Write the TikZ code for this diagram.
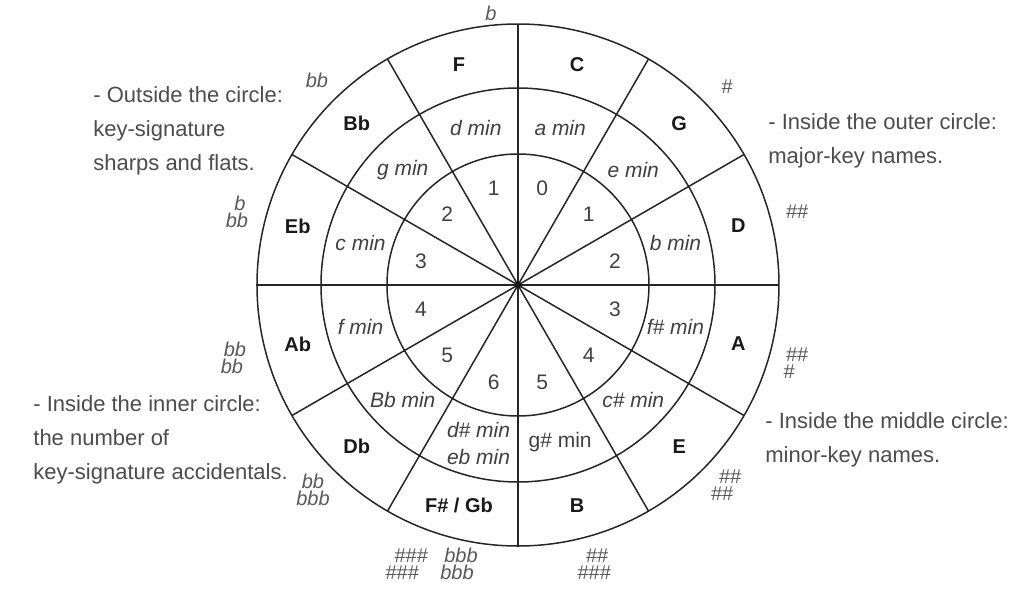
\documentclass[tikz,border=0pt]{standalone}
\usepackage{fontspec}
\setmainfont{Liberation Sans}
\begin{document}
\begin{tikzpicture}[x=0.5pt,y=0.5pt,
    ring/.style={line width=0.75pt, draw=black!85},
    major/.style={font=\fontsize{10}{12}\selectfont\bfseries, text=black!90},
    minor/.style={font=\fontsize{10.5}{13.5}\selectfont\itshape, text=black!75, align=center},
    count/.style={font=\fontsize{10.5}{12}\selectfont, text=black!75},
    accid/.style={font=\fontsize{10}{8.5}\selectfont\itshape, text=black!65, align=center},
    note/.style={font=\fontsize{11}{17}\selectfont, text=black!70, align=left, anchor=west, inner sep=0pt}]

    \useasboundingbox (-518,-306) rectangle (506,285);

    % Outer, middle and inner circle
    \draw[ring] (0,0) circle (261);
    \draw[ring] (0,0) circle (197);
    \draw[ring] (0,0) circle (131);

    % Twelve spokes and the centre point
    \foreach \a in {0,30,...,330}
        \draw[ring] (0,0) -- (\a:261);
    \fill[black!90] (0,0) circle (3.5);

    % Major keys, between outer and middle circle
    \foreach \a/\k [count=\i] in {75/C,45/G,15/D,-15/A,-45/E,-75/B,-105/{F\# / Gb},-135/Db,-165/Ab,165/Eb,135/Bb,105/F}
        \node[major] (maj\i) at (\a:228) {\k};

    % Minor keys, between middle and inner circle
    \foreach \a/\k [count=\i] in {75/a min,45/e min,15/b min,-15/f\# min,-45/c\# min,-75/{\upshape g\# min},-104/{d\# min\\eb min},-135/Bb min,-165/f min,165/c min,135/g min,105/d min}
        \node[minor] (min\i) at (\a:163) {\k};

    % Number of accidentals, inside the inner circle
    \foreach \a/\n [count=\i] in {76/0,45/1,14/2,-14/3,-45/4,-76/5,-104/6,-135/5,-166/4,166/3,135/2,104/1}
        \node[count] (num\i) at (\a:100) {\n};

    % Sharps and flats outside the circle (lower rows sit a little to the left)
    \node[accid] (accF)  at (-27,272)   {b};
    \node[accid] (accBb) at (-201,205)  {bb};
    \node[accid] (accG)  at (209,198)   {\#};
    \node[accid] (accD)  at (279,73)    {\#\#};
    \node[accid] (accA)  at (279,-78)   {\#\#\\\#\hspace*{0.8em}};
    \node[accid] (accE)  at (212,-200)  {\#\#\\\#\#\hspace*{0.8em}};
    \node[accid] (accB)  at (79,-279)   {\#\#\\\#\#\#\hspace*{0.3em}};
    \node[accid] (accFs) at (-107,-279) {\#\#\#\\\#\#\#\hspace*{0.9em}};
    \node[accid] (accGb) at (-57,-279)  {bbb\\bbb\hspace*{0.4em}};
    \node[accid] (accDb) at (-205,-205) {bb\\bbb};
    \node[accid] (accAb) at (-283,-73)  {bb\\bb\hspace*{0.3em}};
    \node[accid] (accEb) at (-278,73)   {b\\bb\hspace*{0.3em}};

    % Explanations
    \node[note] (outside) at (-425,154) {- Outside the circle:\\key-signature\\sharps and flats.};
    \node[note] (inner)   at (-485,-155) {- Inside the inner circle:\\the number of\\key-signature accidentals.};
    \node[note] (outer)   at (250,144)  {- Inside the outer circle:\\major-key names.};
    \node[note] (middle)  at (247,-155) {- Inside the middle circle:\\minor-key names.};
\end{tikzpicture}
\end{document}
